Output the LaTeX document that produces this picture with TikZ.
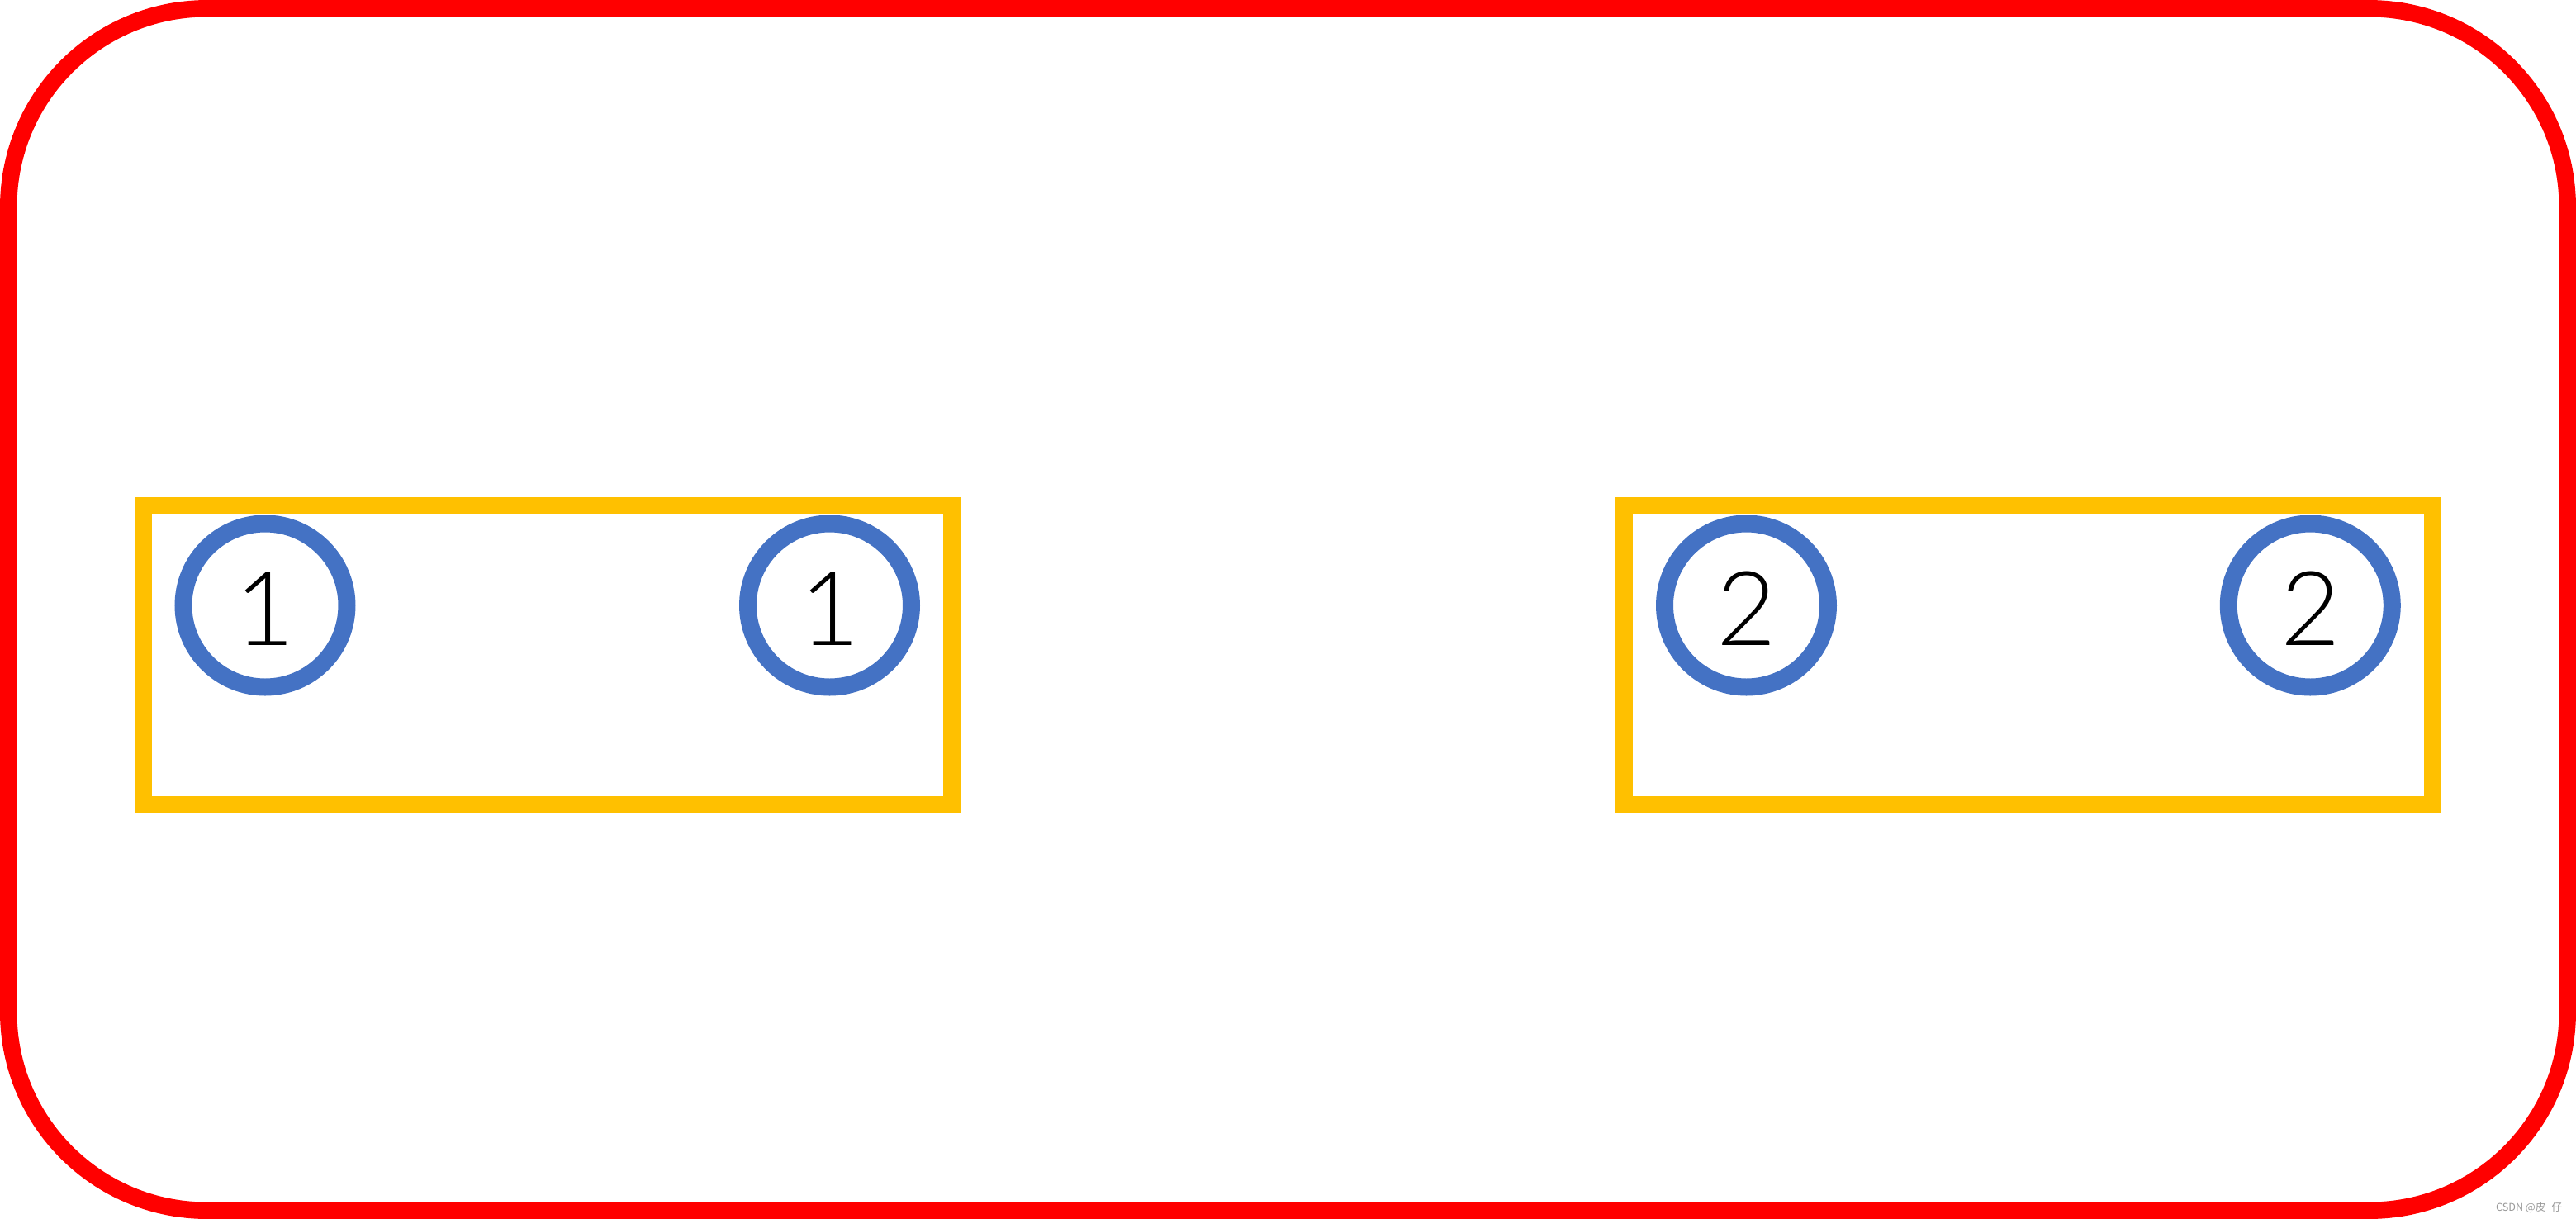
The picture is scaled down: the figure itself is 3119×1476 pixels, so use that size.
\documentclass[tikz,border=0pt]{standalone}
\usepackage{fontspec}
\setmainfont{Liberation Sans}
\newfontfamily\digitfont{Lato Light}
\newfontfamily\cjk{Noto Sans CJK SC}
\definecolor{frameRed}{HTML}{FF0000}
\definecolor{boxYellow}{HTML}{FFC000}
\definecolor{ringBlue}{HTML}{4472C4}
\definecolor{markGray}{HTML}{9A9A9A}
\begin{document}
\begin{tikzpicture}[x=0.1mm, y=-0.1mm,
  frame/.style={draw=frameRed, line width=2.05mm, rounded corners=24mm},
  ybox/.style={draw=boxYellow, line width=2.05mm},
  ring/.style={circle, draw=ringBlue, line width=2.1mm, minimum size=19.8mm, inner sep=0pt,
    font=\digitfont\fontsize{35.6}{40}\selectfont, text height=9.74mm, text depth=0mm},
  wmark/.style={text=markGray, font=\cjk\fontsize{3.6}{4}\selectfont, inner sep=0pt}]
\useasboundingbox (0,0) rectangle (3119,1476);
\fill[white] (0,0) rectangle (3119,1476);
% outer frame
\draw[frame] (10.3,10.3) rectangle (3108.7,1465.7);
% yellow boxes
\draw[ybox] (173.3,612) rectangle (1152.5,974);
\draw[ybox] (1966.5,612) rectangle (2945.5,974);
% circles
\node[ring] (a1) at (321,733) {1};
\node[ring] (a2) at (1004.5,733) {1};
\node[ring] (b1) at (2114.5,733) {2};
\node[ring] (b2) at (2797.3,733) {2};
% watermark
\node[wmark, anchor=base east] (wm) at (3103,1466) {CSDN @皮\_仔};
\end{tikzpicture}
\end{document}
